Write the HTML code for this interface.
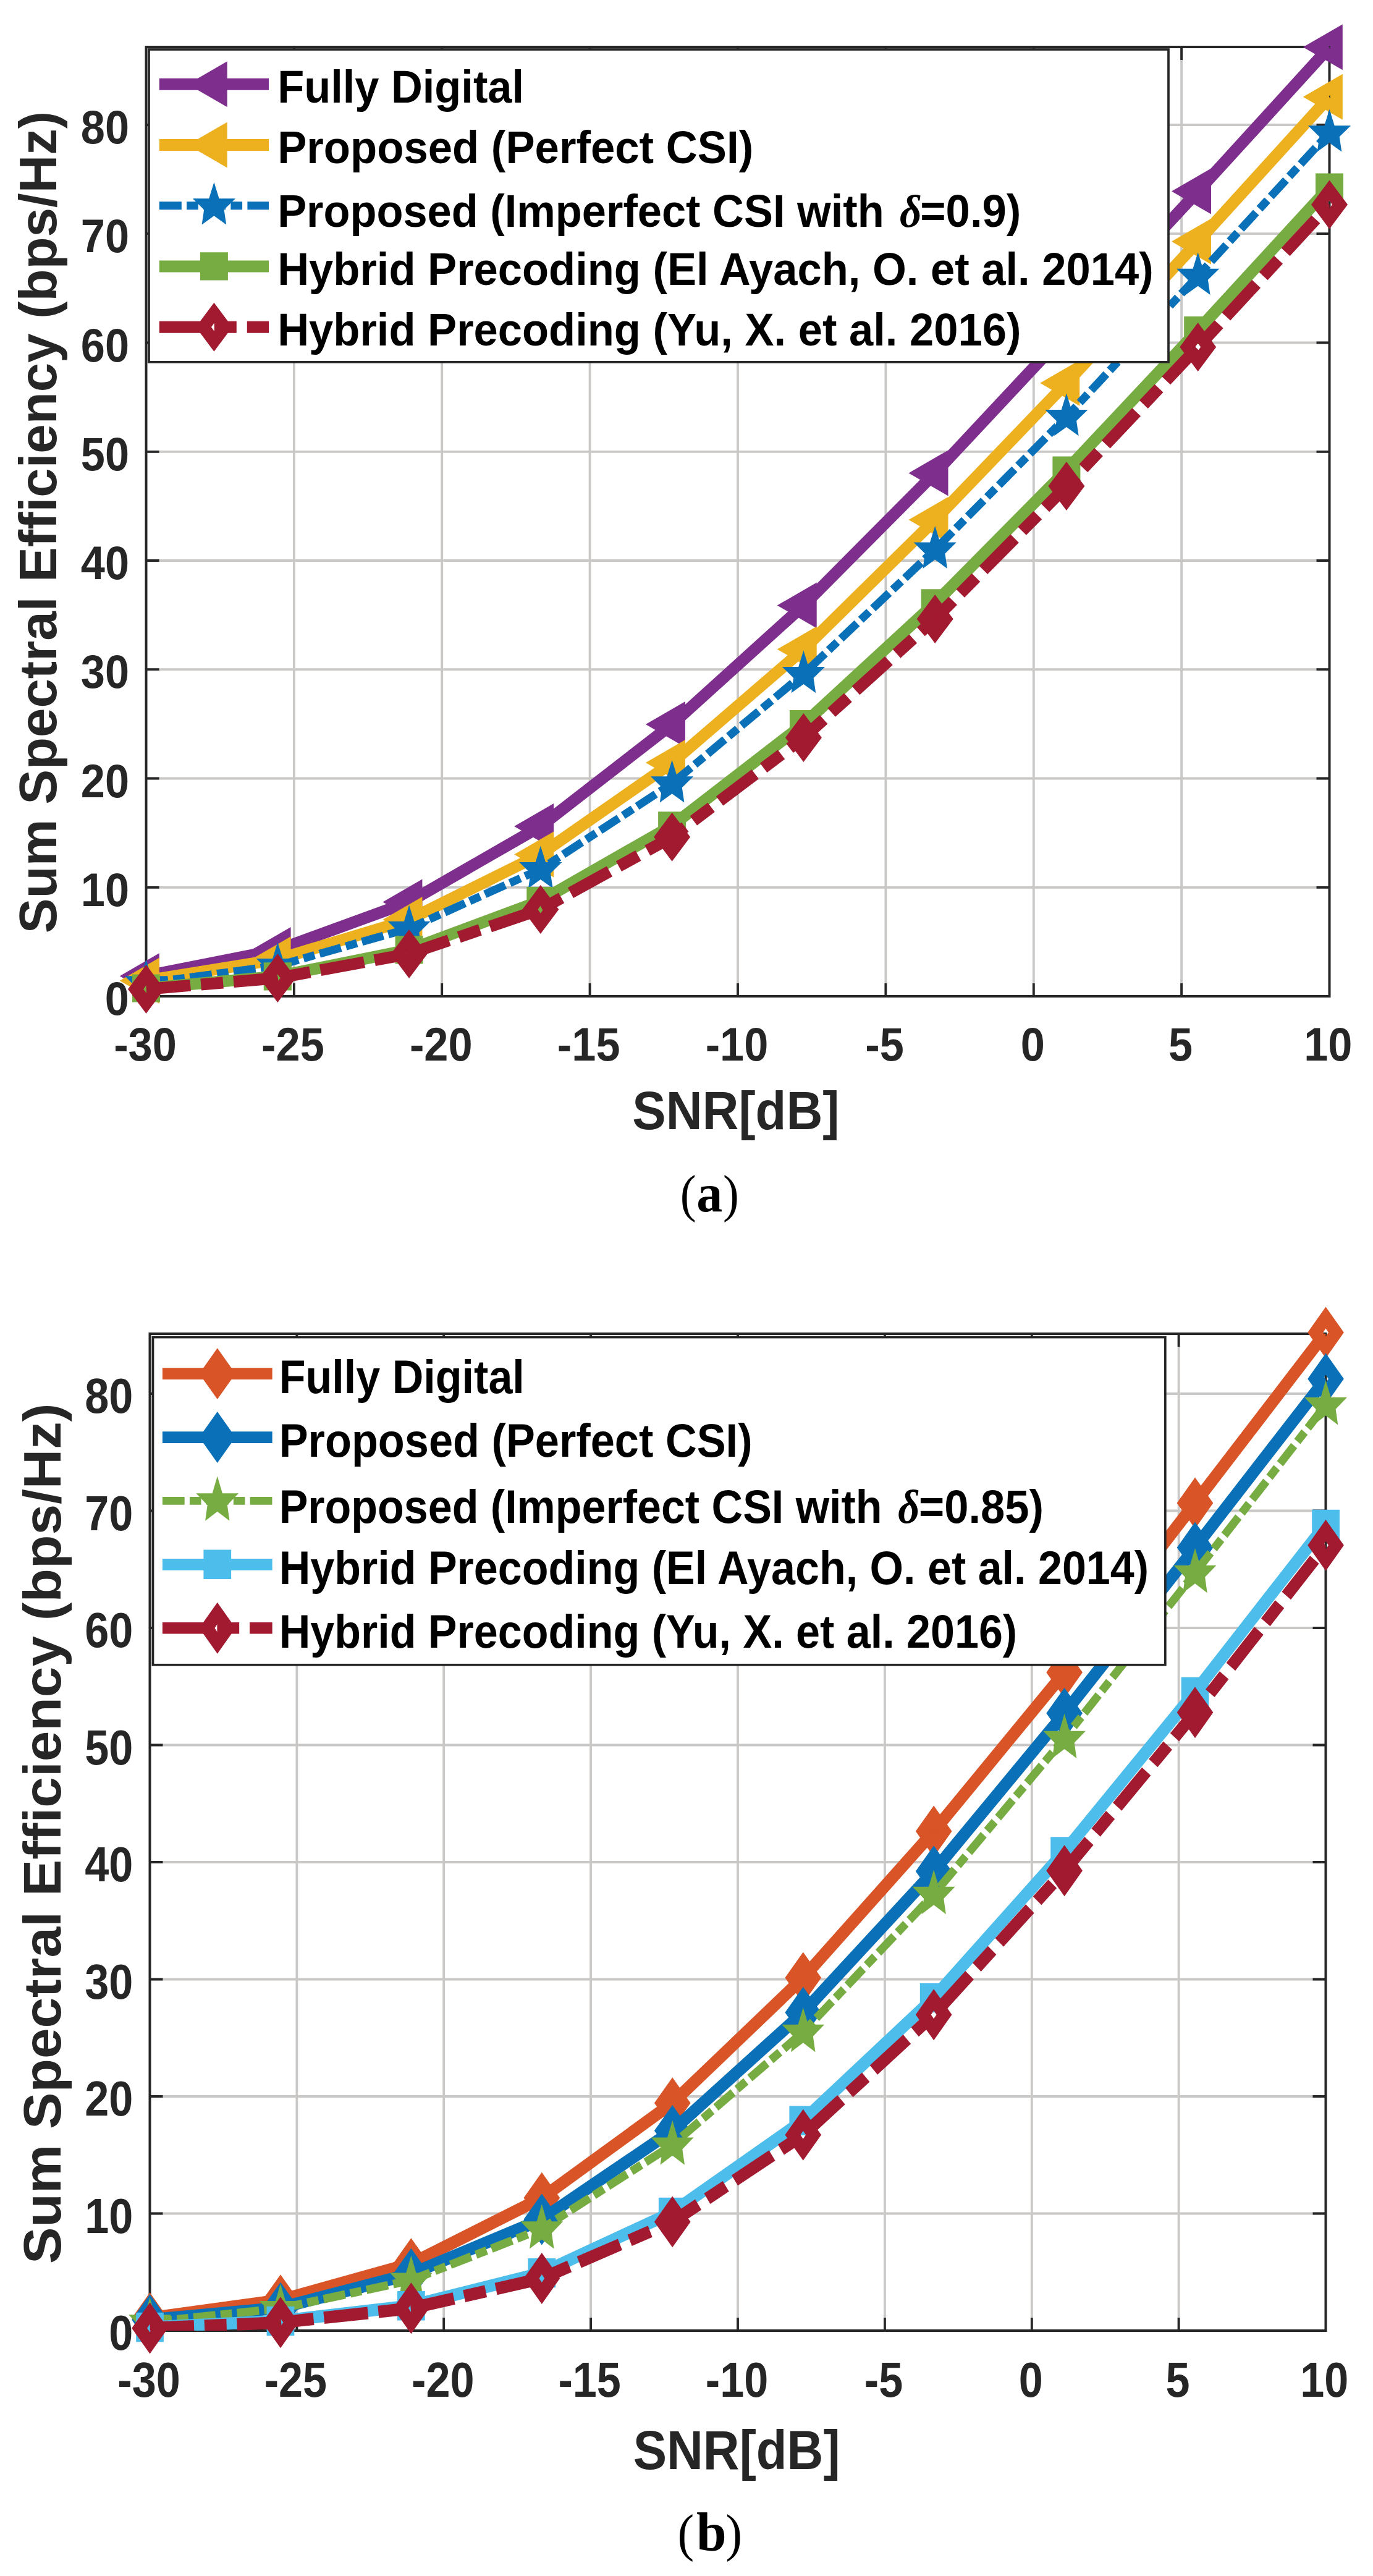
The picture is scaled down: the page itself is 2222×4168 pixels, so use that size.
<!DOCTYPE html>
<html lang="en"><head><meta charset="utf-8"><title>Sum Spectral Efficiency vs SNR</title>
<style>html,body{margin:0;padding:0;background:#fff}svg{display:block}text{white-space:pre}.sb{font-family:'Liberation Sans',Arial,Helvetica,sans-serif;font-weight:bold}.sr{font-family:'Liberation Serif','Times New Roman',serif}.srb{font-family:'Liberation Serif','Times New Roman',serif;font-weight:bold}.si{font-family:'Liberation Serif','Times New Roman',serif;font-style:italic}.sbi{font-family:'Liberation Serif','Times New Roman',serif;font-style:italic;font-weight:bold}</style></head>
<body>
<svg width="2222" height="4168" viewBox="0 0 2222 4168">
<rect width="2222" height="4168" fill="#fff"/>
<g id="chart-a">
<path d="M475.9 76V1612M715.2 76V1612M954.6 76V1612M1194.0 76V1612M1433.4 76V1612M1672.8 76V1612M1912.1 76V1612M236.5 1435.8H2151.5M236.5 1259.5H2151.5M236.5 1083.2H2151.5M236.5 907.0H2151.5M236.5 730.8H2151.5M236.5 554.5H2151.5M236.5 378.2H2151.5M236.5 202.0H2151.5" stroke="#cac8c6" stroke-width="3.8" fill="none"/>
<rect x="236.5" y="76" width="1915.0" height="1536" fill="none" stroke="#262626" stroke-width="4"/>
<path d="M475.9 1612v-21M475.9 76v21M715.2 1612v-21M715.2 76v21M954.6 1612v-21M954.6 76v21M1194.0 1612v-21M1194.0 76v21M1433.4 1612v-21M1433.4 76v21M1672.8 1612v-21M1672.8 76v21M1912.1 1612v-21M1912.1 76v21M236.5 1435.8h21M2151.5 1435.8h-21M236.5 1259.5h21M2151.5 1259.5h-21M236.5 1083.2h21M2151.5 1083.2h-21M236.5 907.0h21M2151.5 907.0h-21M236.5 730.8h21M2151.5 730.8h-21M236.5 554.5h21M2151.5 554.5h-21M236.5 378.2h21M2151.5 378.2h-21M236.5 202.0h21M2151.5 202.0h-21" stroke="#262626" stroke-width="3.8" fill="none"/>
<g transform="scale(1,1)">
<clipPath id="clipa"><rect x="236.50" y="76.00" width="1915.00" height="1536.00"/></clipPath>
<path d="M236.5 1579.2 L449.3 1537.0 L662.1 1459.4 L874.8 1337.0 L1087.6 1172.0 L1300.4 979.5 L1513.2 765.4 L1725.9 538.0 L1938.7 309.6 L2151.5 76.3" stroke="#7e2f8e" stroke-width="19" fill="none" stroke-linejoin="miter" clip-path="url(#clipa)"/>
<path d="M193.8 1579.2 L257.8 1542.2 L257.8 1616.2 Z M234.0 1579.2 L237.7 1576.6 L237.7 1581.8 Z" fill="#7e2f8e" fill-rule="evenodd"/><path d="M406.6 1537.0 L470.6 1500.0 L470.6 1574.0 Z M446.8 1537.0 L450.5 1534.4 L450.5 1539.6 Z" fill="#7e2f8e" fill-rule="evenodd"/><path d="M619.4 1459.4 L683.4 1422.4 L683.4 1496.4 Z M659.6 1459.4 L663.3 1456.8 L663.3 1462.0 Z" fill="#7e2f8e" fill-rule="evenodd"/><path d="M832.1 1337.0 L896.1 1300.0 L896.1 1374.0 Z M872.3 1337.0 L876.0 1334.4 L876.0 1339.6 Z" fill="#7e2f8e" fill-rule="evenodd"/><path d="M1044.9 1172.0 L1108.9 1135.0 L1108.9 1209.0 Z M1085.1 1172.0 L1088.8 1169.4 L1088.8 1174.6 Z" fill="#7e2f8e" fill-rule="evenodd"/><path d="M1257.7 979.5 L1321.7 942.5 L1321.7 1016.5 Z M1297.9 979.5 L1301.6 976.9 L1301.6 982.1 Z" fill="#7e2f8e" fill-rule="evenodd"/><path d="M1470.5 765.4 L1534.5 728.4 L1534.5 802.4 Z M1510.7 765.4 L1514.4 762.8 L1514.4 768.0 Z" fill="#7e2f8e" fill-rule="evenodd"/><path d="M1683.2 538.0 L1747.2 501.0 L1747.2 575.0 Z M1723.4 538.0 L1727.1 535.4 L1727.1 540.6 Z" fill="#7e2f8e" fill-rule="evenodd"/><path d="M1896.0 309.6 L1960.0 272.6 L1960.0 346.6 Z M1936.2 309.6 L1939.9 307.0 L1939.9 312.2 Z" fill="#7e2f8e" fill-rule="evenodd"/><path d="M2108.8 76.3 L2172.8 39.3 L2172.8 113.3 Z M2149.0 76.3 L2152.7 73.7 L2152.7 78.9 Z" fill="#7e2f8e" fill-rule="evenodd"/>
<path d="M236.5 1586.8 L449.3 1552.3 L662.1 1488.0 L874.8 1382.4 L1087.6 1234.0 L1300.4 1050.5 L1513.2 841.0 L1725.9 619.7 L1938.7 390.7 L2151.5 156.7" stroke="#edb120" stroke-width="19" fill="none" stroke-linejoin="miter" clip-path="url(#clipa)"/>
<path d="M193.8 1586.8 L257.8 1549.8 L257.8 1623.8 Z M234.0 1586.8 L237.7 1584.2 L237.7 1589.4 Z" fill="#edb120" fill-rule="evenodd"/><path d="M406.6 1552.3 L470.6 1515.3 L470.6 1589.3 Z M446.8 1552.3 L450.5 1549.7 L450.5 1554.9 Z" fill="#edb120" fill-rule="evenodd"/><path d="M619.4 1488.0 L683.4 1451.0 L683.4 1525.0 Z M659.6 1488.0 L663.3 1485.4 L663.3 1490.6 Z" fill="#edb120" fill-rule="evenodd"/><path d="M832.1 1382.4 L896.1 1345.4 L896.1 1419.4 Z M872.3 1382.4 L876.0 1379.8 L876.0 1385.0 Z" fill="#edb120" fill-rule="evenodd"/><path d="M1044.9 1234.0 L1108.9 1197.0 L1108.9 1271.0 Z M1085.1 1234.0 L1088.8 1231.4 L1088.8 1236.6 Z" fill="#edb120" fill-rule="evenodd"/><path d="M1257.7 1050.5 L1321.7 1013.5 L1321.7 1087.5 Z M1297.9 1050.5 L1301.6 1047.9 L1301.6 1053.1 Z" fill="#edb120" fill-rule="evenodd"/><path d="M1470.5 841.0 L1534.5 804.0 L1534.5 878.0 Z M1510.7 841.0 L1514.4 838.4 L1514.4 843.6 Z" fill="#edb120" fill-rule="evenodd"/><path d="M1683.2 619.7 L1747.2 582.7 L1747.2 656.7 Z M1723.4 619.7 L1727.1 617.1 L1727.1 622.3 Z" fill="#edb120" fill-rule="evenodd"/><path d="M1896.0 390.7 L1960.0 353.7 L1960.0 427.7 Z M1936.2 390.7 L1939.9 388.1 L1939.9 393.3 Z" fill="#edb120" fill-rule="evenodd"/><path d="M2108.8 156.7 L2172.8 119.7 L2172.8 193.7 Z M2149.0 156.7 L2152.7 154.1 L2152.7 159.3 Z" fill="#edb120" fill-rule="evenodd"/>
<path d="M236.5 1590.8 L449.3 1562.5 L662.1 1502.2 L874.8 1406.4 L1087.6 1267.7 L1300.4 1090.4 L1513.2 889.1 L1725.9 674.5 L1938.7 446.2 L2151.5 214.7" stroke="#0a70b8" stroke-width="13" fill="none" stroke-linejoin="miter" stroke-dasharray="36 8.3 18.7 8.3" clip-path="url(#clipa)"/>
<path d="M236.5 1552.8 L244.7 1579.3 L271.1 1579.3 L252.7 1597.4 L256.3 1621.6 L236.5 1607.3 L216.7 1621.6 L220.3 1597.4 L201.9 1579.3 L228.3 1579.3 Z" fill="#0a70b8" fill-rule="evenodd"/><path d="M449.3 1524.5 L457.5 1551.0 L483.9 1551.0 L465.5 1569.1 L469.1 1593.3 L449.3 1579.0 L429.5 1593.3 L433.1 1569.1 L414.7 1551.0 L441.1 1551.0 Z" fill="#0a70b8" fill-rule="evenodd"/><path d="M662.1 1464.2 L670.3 1490.7 L696.7 1490.7 L678.3 1508.8 L681.9 1533.0 L662.1 1518.7 L642.3 1533.0 L645.9 1508.8 L627.5 1490.7 L653.9 1490.7 Z" fill="#0a70b8" fill-rule="evenodd"/><path d="M874.8 1368.4 L883.0 1394.9 L909.4 1394.9 L891.0 1413.0 L894.6 1437.2 L874.8 1422.9 L855.0 1437.2 L858.6 1413.0 L840.2 1394.9 L866.6 1394.9 Z" fill="#0a70b8" fill-rule="evenodd"/><path d="M1087.6 1229.7 L1095.8 1256.2 L1122.2 1256.2 L1103.8 1274.3 L1107.4 1298.5 L1087.6 1284.2 L1067.8 1298.5 L1071.4 1274.3 L1053.0 1256.2 L1079.4 1256.2 Z" fill="#0a70b8" fill-rule="evenodd"/><path d="M1300.4 1052.4 L1308.6 1078.9 L1335.0 1078.9 L1316.6 1097.0 L1320.2 1121.2 L1300.4 1106.9 L1280.6 1121.2 L1284.2 1097.0 L1265.8 1078.9 L1292.2 1078.9 Z" fill="#0a70b8" fill-rule="evenodd"/><path d="M1513.2 851.1 L1521.4 877.6 L1547.8 877.6 L1529.4 895.7 L1533.0 919.9 L1513.2 905.6 L1493.4 919.9 L1497.0 895.7 L1478.6 877.6 L1505.0 877.6 Z" fill="#0a70b8" fill-rule="evenodd"/><path d="M1725.9 636.5 L1734.1 663.0 L1760.5 663.0 L1742.1 681.1 L1745.7 705.3 L1725.9 691.0 L1706.1 705.3 L1709.7 681.1 L1691.3 663.0 L1717.7 663.0 Z" fill="#0a70b8" fill-rule="evenodd"/><path d="M1938.7 408.2 L1946.9 434.7 L1973.3 434.7 L1954.9 452.8 L1958.5 477.0 L1938.7 462.7 L1918.9 477.0 L1922.5 452.8 L1904.1 434.7 L1930.5 434.7 Z" fill="#0a70b8" fill-rule="evenodd"/><path d="M2151.5 176.7 L2159.7 203.2 L2186.1 203.2 L2167.7 221.3 L2171.3 245.5 L2151.5 231.2 L2131.7 245.5 L2135.3 221.3 L2116.9 203.2 L2143.3 203.2 Z" fill="#0a70b8" fill-rule="evenodd"/>
<path d="M236.5 1599.0 L449.3 1579.8 L662.1 1536.8 L874.8 1457.7 L1087.6 1335.9 L1300.4 1171.7 L1513.2 975.8 L1725.9 761.0 L1938.7 534.5 L2151.5 303.0" stroke="#77ac42" stroke-width="19" fill="none" stroke-linejoin="miter" clip-path="url(#clipa)"/>
<path d="M214.0 1576.4 L259.0 1576.4 L259.0 1621.6 L214.0 1621.6 Z" fill="#77ac42" fill-rule="evenodd"/><path d="M426.8 1557.2 L471.8 1557.2 L471.8 1602.4 L426.8 1602.4 Z" fill="#77ac42" fill-rule="evenodd"/><path d="M639.6 1514.2 L684.6 1514.2 L684.6 1559.4 L639.6 1559.4 Z" fill="#77ac42" fill-rule="evenodd"/><path d="M852.3 1435.1 L897.3 1435.1 L897.3 1480.3 L852.3 1480.3 Z" fill="#77ac42" fill-rule="evenodd"/><path d="M1065.1 1313.3 L1110.1 1313.3 L1110.1 1358.5 L1065.1 1358.5 Z" fill="#77ac42" fill-rule="evenodd"/><path d="M1277.9 1149.1 L1322.9 1149.1 L1322.9 1194.3 L1277.9 1194.3 Z" fill="#77ac42" fill-rule="evenodd"/><path d="M1490.7 953.2 L1535.7 953.2 L1535.7 998.4 L1490.7 998.4 Z" fill="#77ac42" fill-rule="evenodd"/><path d="M1703.4 738.4 L1748.4 738.4 L1748.4 783.6 L1703.4 783.6 Z" fill="#77ac42" fill-rule="evenodd"/><path d="M1916.2 511.9 L1961.2 511.9 L1961.2 557.1 L1916.2 557.1 Z" fill="#77ac42" fill-rule="evenodd"/><path d="M2129.0 280.4 L2174.0 280.4 L2174.0 325.6 L2129.0 325.6 Z" fill="#77ac42" fill-rule="evenodd"/>
<path d="M236.5 1600.4 L449.3 1582.5 L662.1 1543.4 L874.8 1471.5 L1087.6 1354.2 L1300.4 1193.6 L1513.2 1001.5 L1725.9 786.6 L1938.7 561.4 L2151.5 331.0" stroke="#a21a30" stroke-width="19" fill="none" stroke-linejoin="miter" stroke-dasharray="72 17 36 17" clip-path="url(#clipa)"/>
<path d="M236.5 1560.9 L266.0 1600.4 L236.5 1639.9 L207.0 1600.4 Z M236.5 1594.2 L240.9 1600.4 L236.5 1606.6 L232.1 1600.4 Z" fill="#a21a30" fill-rule="evenodd"/><path d="M449.3 1543.0 L478.8 1582.5 L449.3 1622.0 L419.8 1582.5 Z M449.3 1576.3 L453.7 1582.5 L449.3 1588.7 L444.9 1582.5 Z" fill="#a21a30" fill-rule="evenodd"/><path d="M662.1 1503.9 L691.6 1543.4 L662.1 1582.9 L632.6 1543.4 Z M662.1 1537.2 L666.5 1543.4 L662.1 1549.6 L657.7 1543.4 Z" fill="#a21a30" fill-rule="evenodd"/><path d="M874.8 1432.0 L904.3 1471.5 L874.8 1511.0 L845.3 1471.5 Z M874.8 1465.3 L879.2 1471.5 L874.8 1477.7 L870.4 1471.5 Z" fill="#a21a30" fill-rule="evenodd"/><path d="M1087.6 1314.7 L1117.1 1354.2 L1087.6 1393.7 L1058.1 1354.2 Z M1087.6 1348.0 L1092.0 1354.2 L1087.6 1360.4 L1083.2 1354.2 Z" fill="#a21a30" fill-rule="evenodd"/><path d="M1300.4 1154.1 L1329.9 1193.6 L1300.4 1233.1 L1270.9 1193.6 Z M1300.4 1187.4 L1304.8 1193.6 L1300.4 1199.8 L1296.0 1193.6 Z" fill="#a21a30" fill-rule="evenodd"/><path d="M1513.2 962.0 L1542.7 1001.5 L1513.2 1041.0 L1483.7 1001.5 Z M1513.2 995.3 L1517.6 1001.5 L1513.2 1007.7 L1508.8 1001.5 Z" fill="#a21a30" fill-rule="evenodd"/><path d="M1725.9 747.1 L1755.4 786.6 L1725.9 826.1 L1696.4 786.6 Z M1725.9 780.4 L1730.3 786.6 L1725.9 792.8 L1721.5 786.6 Z" fill="#a21a30" fill-rule="evenodd"/><path d="M1938.7 521.9 L1968.2 561.4 L1938.7 600.9 L1909.2 561.4 Z M1938.7 555.2 L1943.1 561.4 L1938.7 567.6 L1934.3 561.4 Z" fill="#a21a30" fill-rule="evenodd"/><path d="M2151.5 291.5 L2181.0 331.0 L2151.5 370.5 L2122.0 331.0 Z M2151.5 324.8 L2155.9 331.0 L2151.5 337.2 L2147.1 331.0 Z" fill="#a21a30" fill-rule="evenodd"/>
</g>
<rect x="241" y="80" width="1650" height="505.79999999999995" fill="#fff" stroke="#262626" stroke-width="3.7"/>
<g transform="scale(1,1)">
<path d="M257.8 136.2H435.0" stroke="#7e2f8e" stroke-width="19.00" fill="none"/>
<path d="M303.7 136.2 L367.7 99.2 L367.7 173.2 Z M343.9 136.2 L347.6 133.6 L347.6 138.8 Z" fill="#7e2f8e" fill-rule="evenodd"/>
<path d="M257.8 234.4H435.0" stroke="#edb120" stroke-width="19.00" fill="none"/>
<path d="M303.7 234.4 L367.7 197.4 L367.7 271.4 Z M343.9 234.4 L347.6 231.8 L347.6 237.0 Z" fill="#edb120" fill-rule="evenodd"/>
<path d="M257.8 332.7H435.0" stroke="#0a70b8" stroke-width="13.00" stroke-dasharray="36 8.3 18.7 8.3" fill="none"/>
<path d="M346.4 294.7 L354.6 321.2 L381.0 321.2 L362.6 339.3 L366.2 363.5 L346.4 349.2 L326.6 363.5 L330.2 339.3 L311.8 321.2 L338.2 321.2 Z" fill="#0a70b8" fill-rule="evenodd"/>
<path d="M257.8 430.9H435.0" stroke="#77ac42" stroke-width="19.00" fill="none"/>
<path d="M323.9 408.3 L368.9 408.3 L368.9 453.6 L323.9 453.6 Z" fill="#77ac42" fill-rule="evenodd"/>
<path d="M257.8 529.2H435.0" stroke="#a21a30" stroke-width="19.00" stroke-dasharray="72 17 36 17" fill="none"/>
<path d="M346.4 489.7 L375.9 529.2 L346.4 568.7 L316.9 529.2 Z M346.4 523.0 L350.8 529.2 L346.4 535.4 L342.0 529.2 Z" fill="#a21a30" fill-rule="evenodd"/>
</g>
</g>
<text transform="translate(169.86,1642.00) scale(0.9250,1.0000)" font-size="76.07" fill="#262626" class="sb">0</text>
<text transform="translate(130.81,1465.75) scale(0.9250,1.0000)" font-size="76.07" fill="#262626" class="sb">10</text>
<text transform="translate(130.81,1289.50) scale(0.9250,1.0000)" font-size="76.07" fill="#262626" class="sb">20</text>
<text transform="translate(130.81,1113.25) scale(0.9250,1.0000)" font-size="76.07" fill="#262626" class="sb">30</text>
<text transform="translate(130.81,937.00) scale(0.9250,1.0000)" font-size="76.07" fill="#262626" class="sb">40</text>
<text transform="translate(130.81,760.75) scale(0.9250,1.0000)" font-size="76.07" fill="#262626" class="sb">50</text>
<text transform="translate(130.81,584.50) scale(0.9250,1.0000)" font-size="76.07" fill="#262626" class="sb">60</text>
<text transform="translate(130.81,408.25) scale(0.9250,1.0000)" font-size="76.07" fill="#262626" class="sb">70</text>
<text transform="translate(130.81,232.00) scale(0.9250,1.0000)" font-size="76.07" fill="#262626" class="sb">80</text>
<text transform="translate(184.16,1716.00) scale(0.9250,1.0000)" font-size="76.07" fill="#262626" class="sb">-30</text>
<text transform="translate(423.09,1716.00) scale(0.9250,1.0000)" font-size="76.07" fill="#262626" class="sb">-25</text>
<text transform="translate(662.91,1716.00) scale(0.9250,1.0000)" font-size="76.07" fill="#262626" class="sb">-20</text>
<text transform="translate(901.84,1716.00) scale(0.9250,1.0000)" font-size="76.07" fill="#262626" class="sb">-15</text>
<text transform="translate(1141.66,1716.00) scale(0.9250,1.0000)" font-size="76.07" fill="#262626" class="sb">-10</text>
<text transform="translate(1400.21,1716.00) scale(0.9250,1.0000)" font-size="76.07" fill="#262626" class="sb">-5</text>
<text transform="translate(1651.72,1716.00) scale(0.9250,1.0000)" font-size="76.07" fill="#262626" class="sb">0</text>
<text transform="translate(1891.01,1716.00) scale(0.9250,1.0000)" font-size="76.07" fill="#262626" class="sb">5</text>
<text transform="translate(2110.15,1716.00) scale(0.9250,1.0000)" font-size="76.07" fill="#262626" class="sb">10</text>
<text transform="translate(1023.25,1827.00) scale(0.9440,1.0000)" font-size="86.40" fill="#262626" class="sb">SNR[dB]</text>
<text transform="translate(90.90,1510.16) rotate(-90) scale(0.9980,1.0000)" font-size="85.38" fill="#262626" class="sb">Sum Spectral Efficiency (bps/Hz)</text>
<text transform="translate(449.15,166.20) scale(0.9455,1.0000)" font-size="74.47" fill="#000" class="sb">Fully Digital</text>
<text transform="translate(449.13,264.45) scale(0.9496,1.0000)" font-size="74.47" fill="#000" class="sb">Proposed (Perfect CSI)</text>
<text transform="translate(449.14,460.95) scale(0.9473,1.0000)" font-size="74.47" fill="#000" class="sb">Hybrid Precoding (El Ayach, O. et al. 2014)</text>
<text transform="translate(449.14,559.20) scale(0.9473,1.0000)" font-size="74.47" fill="#000" class="sb">Hybrid Precoding (Yu, X. et al. 2016)</text>
<text transform="translate(0,366.70) scale(1,1.0000)" fill="#000"><tspan class="sb" font-size="74.47" x="449.15" textLength="1001.15" lengthAdjust="spacingAndGlyphs">Proposed (Imperfect CSI with </tspan><tspan class="sbi" font-size="74.00" x="1455.96" textLength="35.61" lengthAdjust="spacingAndGlyphs">δ</tspan><tspan class="sb" font-size="74.47" x="1489.30" textLength="163.12" lengthAdjust="spacingAndGlyphs">=0.9)</tspan></text>
<text transform="translate(0,1960.00) scale(1,1.0000)" fill="#000"><tspan class="sr" font-size="85.00" x="1100.70" textLength="25.86" lengthAdjust="spacingAndGlyphs">(</tspan><tspan class="srb" font-size="88.00" x="1127.27" textLength="41.99" lengthAdjust="spacingAndGlyphs">a</tspan><tspan class="sr" font-size="85.00" x="1169.98" textLength="25.86" lengthAdjust="spacingAndGlyphs">)</tspan></text>
<g id="chart-b">
<path d="M480.4 2158V3771M718.2 2158V3771M956.1 2158V3771M1194.0 2158V3771M1431.9 2158V3771M1669.8 2158V3771M1907.6 2158V3771M242.5 3581.5H2145.5M242.5 3392.0H2145.5M242.5 3202.5H2145.5M242.5 3013.0H2145.5M242.5 2823.5H2145.5M242.5 2634.0H2145.5M242.5 2444.5H2145.5M242.5 2255.0H2145.5" stroke="#cac8c6" stroke-width="3.8" fill="none"/>
<rect x="242.5" y="2158" width="1903.0" height="1613" fill="none" stroke="#262626" stroke-width="4"/>
<path d="M480.4 3771v-21M480.4 2158v21M718.2 3771v-21M718.2 2158v21M956.1 3771v-21M956.1 2158v21M1194.0 3771v-21M1194.0 2158v21M1431.9 3771v-21M1431.9 2158v21M1669.8 3771v-21M1669.8 2158v21M1907.6 3771v-21M1907.6 2158v21M242.5 3581.5h21M2145.5 3581.5h-21M242.5 3392.0h21M2145.5 3392.0h-21M242.5 3202.5h21M2145.5 3202.5h-21M242.5 3013.0h21M2145.5 3013.0h-21M242.5 2823.5h21M2145.5 2823.5h-21M242.5 2634.0h21M2145.5 2634.0h-21M242.5 2444.5h21M2145.5 2444.5h-21M242.5 2255.0h21M2145.5 2255.0h-21" stroke="#262626" stroke-width="3.8" fill="none"/>
<g transform="scale(0.994,1.05)">
<clipPath id="clipb"><rect x="243.96" y="2055.24" width="1914.49" height="1536.19"/></clipPath>
<path d="M244.0 3572.1 L456.7 3544.4 L669.4 3488.3 L882.1 3387.0 L1094.8 3240.7 L1307.6 3047.7 L1520.3 2822.0 L1733.0 2577.1 L1945.7 2316.1 L2158.5 2053.3" stroke="#d95427" stroke-width="19" fill="none" stroke-linejoin="miter" clip-path="url(#clipb)"/>
<path d="M244.0 3532.6 L273.5 3572.1 L244.0 3611.6 L214.5 3572.1 Z M244.0 3565.9 L248.4 3572.1 L244.0 3578.3 L239.6 3572.1 Z" fill="#d95427" fill-rule="evenodd"/><path d="M456.7 3504.9 L486.2 3544.4 L456.7 3583.9 L427.2 3544.4 Z M456.7 3538.2 L461.1 3544.4 L456.7 3550.6 L452.3 3544.4 Z" fill="#d95427" fill-rule="evenodd"/><path d="M669.4 3448.8 L698.9 3488.3 L669.4 3527.8 L639.9 3488.3 Z M669.4 3482.1 L673.8 3488.3 L669.4 3494.5 L665.0 3488.3 Z" fill="#d95427" fill-rule="evenodd"/><path d="M882.1 3347.5 L911.6 3387.0 L882.1 3426.5 L852.6 3387.0 Z M882.1 3380.8 L886.5 3387.0 L882.1 3393.2 L877.7 3387.0 Z" fill="#d95427" fill-rule="evenodd"/><path d="M1094.8 3201.2 L1124.3 3240.7 L1094.8 3280.2 L1065.3 3240.7 Z M1094.8 3234.5 L1099.2 3240.7 L1094.8 3246.9 L1090.4 3240.7 Z" fill="#d95427" fill-rule="evenodd"/><path d="M1307.6 3008.2 L1337.1 3047.7 L1307.6 3087.2 L1278.1 3047.7 Z M1307.6 3041.5 L1312.0 3047.7 L1307.6 3053.9 L1303.2 3047.7 Z" fill="#d95427" fill-rule="evenodd"/><path d="M1520.3 2782.5 L1549.8 2822.0 L1520.3 2861.5 L1490.8 2822.0 Z M1520.3 2815.8 L1524.7 2822.0 L1520.3 2828.2 L1515.9 2822.0 Z" fill="#d95427" fill-rule="evenodd"/><path d="M1733.0 2537.6 L1762.5 2577.1 L1733.0 2616.6 L1703.5 2577.1 Z M1733.0 2570.9 L1737.4 2577.1 L1733.0 2583.3 L1728.6 2577.1 Z" fill="#d95427" fill-rule="evenodd"/><path d="M1945.7 2276.6 L1975.2 2316.1 L1945.7 2355.6 L1916.2 2316.1 Z M1945.7 2309.9 L1950.1 2316.1 L1945.7 2322.3 L1941.3 2316.1 Z" fill="#d95427" fill-rule="evenodd"/><path d="M2158.5 2013.8 L2188.0 2053.3 L2158.5 2092.8 L2129.0 2053.3 Z M2158.5 2047.1 L2162.9 2053.3 L2158.5 2059.5 L2154.1 2053.3 Z" fill="#d95427" fill-rule="evenodd"/>
<path d="M244.0 3574.8 L456.7 3556.3 L669.4 3504.1 L882.1 3420.0 L1094.8 3283.3 L1307.6 3101.1 L1520.3 2883.6 L1733.0 2640.1 L1945.7 2384.8 L2158.5 2124.8" stroke="#0a70b8" stroke-width="19" fill="none" stroke-linejoin="miter" clip-path="url(#clipb)"/>
<path d="M244.0 3535.3 L273.5 3574.8 L244.0 3614.3 L214.5 3574.8 Z M244.0 3568.6 L248.4 3574.8 L244.0 3581.0 L239.6 3574.8 Z" fill="#0a70b8" fill-rule="evenodd"/><path d="M456.7 3516.8 L486.2 3556.3 L456.7 3595.8 L427.2 3556.3 Z M456.7 3550.1 L461.1 3556.3 L456.7 3562.5 L452.3 3556.3 Z" fill="#0a70b8" fill-rule="evenodd"/><path d="M669.4 3464.6 L698.9 3504.1 L669.4 3543.6 L639.9 3504.1 Z M669.4 3497.9 L673.8 3504.1 L669.4 3510.3 L665.0 3504.1 Z" fill="#0a70b8" fill-rule="evenodd"/><path d="M882.1 3380.5 L911.6 3420.0 L882.1 3459.5 L852.6 3420.0 Z M882.1 3413.8 L886.5 3420.0 L882.1 3426.2 L877.7 3420.0 Z" fill="#0a70b8" fill-rule="evenodd"/><path d="M1094.8 3243.8 L1124.3 3283.3 L1094.8 3322.8 L1065.3 3283.3 Z M1094.8 3277.1 L1099.2 3283.3 L1094.8 3289.5 L1090.4 3283.3 Z" fill="#0a70b8" fill-rule="evenodd"/><path d="M1307.6 3061.6 L1337.1 3101.1 L1307.6 3140.6 L1278.1 3101.1 Z M1307.6 3094.9 L1312.0 3101.1 L1307.6 3107.3 L1303.2 3101.1 Z" fill="#0a70b8" fill-rule="evenodd"/><path d="M1520.3 2844.1 L1549.8 2883.6 L1520.3 2923.1 L1490.8 2883.6 Z M1520.3 2877.4 L1524.7 2883.6 L1520.3 2889.8 L1515.9 2883.6 Z" fill="#0a70b8" fill-rule="evenodd"/><path d="M1733.0 2600.6 L1762.5 2640.1 L1733.0 2679.6 L1703.5 2640.1 Z M1733.0 2633.9 L1737.4 2640.1 L1733.0 2646.3 L1728.6 2640.1 Z" fill="#0a70b8" fill-rule="evenodd"/><path d="M1945.7 2345.3 L1975.2 2384.8 L1945.7 2424.3 L1916.2 2384.8 Z M1945.7 2378.6 L1950.1 2384.8 L1945.7 2391.0 L1941.3 2384.8 Z" fill="#0a70b8" fill-rule="evenodd"/><path d="M2158.5 2085.3 L2188.0 2124.8 L2158.5 2164.3 L2129.0 2124.8 Z M2158.5 2118.6 L2162.9 2124.8 L2158.5 2131.0 L2154.1 2124.8 Z" fill="#0a70b8" fill-rule="evenodd"/>
<path d="M244.0 3578.3 L456.7 3557.2 L669.4 3513.8 L882.1 3434.5 L1094.8 3305.2 L1307.6 3131.3 L1520.3 2919.0 L1733.0 2678.8 L1945.7 2423.7 L2158.5 2164.9" stroke="#77ac42" stroke-width="13" fill="none" stroke-linejoin="miter" stroke-dasharray="36 8.3 18.7 8.3" clip-path="url(#clipb)"/>
<path d="M244.0 3540.3 L252.2 3566.8 L278.6 3566.8 L260.2 3584.9 L263.8 3609.1 L244.0 3594.8 L224.2 3609.1 L227.8 3584.9 L209.4 3566.8 L235.8 3566.8 Z" fill="#77ac42" fill-rule="evenodd"/><path d="M456.7 3519.2 L464.9 3545.7 L491.3 3545.7 L472.9 3563.8 L476.5 3588.0 L456.7 3573.7 L436.9 3588.0 L440.5 3563.8 L422.1 3545.7 L448.5 3545.7 Z" fill="#77ac42" fill-rule="evenodd"/><path d="M669.4 3475.8 L677.6 3502.3 L704.0 3502.3 L685.6 3520.4 L689.2 3544.6 L669.4 3530.3 L649.6 3544.6 L653.2 3520.4 L634.8 3502.3 L661.2 3502.3 Z" fill="#77ac42" fill-rule="evenodd"/><path d="M882.1 3396.5 L890.3 3423.0 L916.7 3423.0 L898.3 3441.1 L901.9 3465.3 L882.1 3451.0 L862.3 3465.3 L865.9 3441.1 L847.5 3423.0 L873.9 3423.0 Z" fill="#77ac42" fill-rule="evenodd"/><path d="M1094.8 3267.2 L1103.0 3293.7 L1129.4 3293.7 L1111.0 3311.8 L1114.6 3336.0 L1094.8 3321.7 L1075.0 3336.0 L1078.6 3311.8 L1060.2 3293.7 L1086.6 3293.7 Z" fill="#77ac42" fill-rule="evenodd"/><path d="M1307.6 3093.3 L1315.8 3119.8 L1342.2 3119.8 L1323.8 3137.9 L1327.4 3162.1 L1307.6 3147.8 L1287.8 3162.1 L1291.4 3137.9 L1273.0 3119.8 L1299.4 3119.8 Z" fill="#77ac42" fill-rule="evenodd"/><path d="M1520.3 2881.0 L1528.5 2907.5 L1554.9 2907.5 L1536.5 2925.6 L1540.1 2949.8 L1520.3 2935.5 L1500.5 2949.8 L1504.1 2925.6 L1485.7 2907.5 L1512.1 2907.5 Z" fill="#77ac42" fill-rule="evenodd"/><path d="M1733.0 2640.8 L1741.2 2667.3 L1767.6 2667.3 L1749.2 2685.4 L1752.8 2709.6 L1733.0 2695.3 L1713.2 2709.6 L1716.8 2685.4 L1698.4 2667.3 L1724.8 2667.3 Z" fill="#77ac42" fill-rule="evenodd"/><path d="M1945.7 2385.7 L1953.9 2412.2 L1980.3 2412.2 L1961.9 2430.3 L1965.5 2454.5 L1945.7 2440.2 L1925.9 2454.5 L1929.5 2430.3 L1911.1 2412.2 L1937.5 2412.2 Z" fill="#77ac42" fill-rule="evenodd"/><path d="M2158.5 2126.9 L2166.7 2153.4 L2193.1 2153.4 L2174.7 2171.5 L2178.3 2195.7 L2158.5 2181.4 L2138.7 2195.7 L2142.3 2171.5 L2123.9 2153.4 L2150.3 2153.4 Z" fill="#77ac42" fill-rule="evenodd"/>
<path d="M244.0 3586.1 L456.7 3576.6 L669.4 3553.1 L882.1 3502.5 L1094.8 3409.1 L1307.6 3267.8 L1520.3 3078.7 L1733.0 2853.3 L1945.7 2607.2 L2158.5 2349.0" stroke="#4dbdeb" stroke-width="19" fill="none" stroke-linejoin="miter" clip-path="url(#clipb)"/>
<path d="M221.5 3563.5 L266.5 3563.5 L266.5 3608.7 L221.5 3608.7 Z" fill="#4dbdeb" fill-rule="evenodd"/><path d="M434.2 3554.0 L479.2 3554.0 L479.2 3599.2 L434.2 3599.2 Z" fill="#4dbdeb" fill-rule="evenodd"/><path d="M646.9 3530.5 L691.9 3530.5 L691.9 3575.7 L646.9 3575.7 Z" fill="#4dbdeb" fill-rule="evenodd"/><path d="M859.6 3479.9 L904.6 3479.9 L904.6 3525.1 L859.6 3525.1 Z" fill="#4dbdeb" fill-rule="evenodd"/><path d="M1072.3 3386.5 L1117.3 3386.5 L1117.3 3431.7 L1072.3 3431.7 Z" fill="#4dbdeb" fill-rule="evenodd"/><path d="M1285.1 3245.2 L1330.1 3245.2 L1330.1 3290.4 L1285.1 3290.4 Z" fill="#4dbdeb" fill-rule="evenodd"/><path d="M1497.8 3056.1 L1542.8 3056.1 L1542.8 3101.3 L1497.8 3101.3 Z" fill="#4dbdeb" fill-rule="evenodd"/><path d="M1710.5 2830.7 L1755.5 2830.7 L1755.5 2875.9 L1710.5 2875.9 Z" fill="#4dbdeb" fill-rule="evenodd"/><path d="M1923.2 2584.6 L1968.2 2584.6 L1968.2 2629.8 L1923.2 2629.8 Z" fill="#4dbdeb" fill-rule="evenodd"/><path d="M2136.0 2326.4 L2181.0 2326.4 L2181.0 2371.6 L2136.0 2371.6 Z" fill="#4dbdeb" fill-rule="evenodd"/>
<path d="M244.0 3587.6 L456.7 3578.9 L669.4 3557.0 L882.1 3510.9 L1094.8 3423.7 L1307.6 3289.8 L1520.3 3104.5 L1733.0 2882.7 L1945.7 2638.9 L2158.5 2381.2" stroke="#a21a30" stroke-width="19" fill="none" stroke-linejoin="miter" stroke-dasharray="72 17 36 17" clip-path="url(#clipb)"/>
<path d="M244.0 3548.1 L273.5 3587.6 L244.0 3627.1 L214.5 3587.6 Z M244.0 3581.4 L248.4 3587.6 L244.0 3593.8 L239.6 3587.6 Z" fill="#a21a30" fill-rule="evenodd"/><path d="M456.7 3539.4 L486.2 3578.9 L456.7 3618.4 L427.2 3578.9 Z M456.7 3572.7 L461.1 3578.9 L456.7 3585.1 L452.3 3578.9 Z" fill="#a21a30" fill-rule="evenodd"/><path d="M669.4 3517.5 L698.9 3557.0 L669.4 3596.5 L639.9 3557.0 Z M669.4 3550.8 L673.8 3557.0 L669.4 3563.2 L665.0 3557.0 Z" fill="#a21a30" fill-rule="evenodd"/><path d="M882.1 3471.4 L911.6 3510.9 L882.1 3550.4 L852.6 3510.9 Z M882.1 3504.7 L886.5 3510.9 L882.1 3517.1 L877.7 3510.9 Z" fill="#a21a30" fill-rule="evenodd"/><path d="M1094.8 3384.2 L1124.3 3423.7 L1094.8 3463.2 L1065.3 3423.7 Z M1094.8 3417.5 L1099.2 3423.7 L1094.8 3429.9 L1090.4 3423.7 Z" fill="#a21a30" fill-rule="evenodd"/><path d="M1307.6 3250.3 L1337.1 3289.8 L1307.6 3329.3 L1278.1 3289.8 Z M1307.6 3283.6 L1312.0 3289.8 L1307.6 3296.0 L1303.2 3289.8 Z" fill="#a21a30" fill-rule="evenodd"/><path d="M1520.3 3065.0 L1549.8 3104.5 L1520.3 3144.0 L1490.8 3104.5 Z M1520.3 3098.3 L1524.7 3104.5 L1520.3 3110.7 L1515.9 3104.5 Z" fill="#a21a30" fill-rule="evenodd"/><path d="M1733.0 2843.2 L1762.5 2882.7 L1733.0 2922.2 L1703.5 2882.7 Z M1733.0 2876.5 L1737.4 2882.7 L1733.0 2888.9 L1728.6 2882.7 Z" fill="#a21a30" fill-rule="evenodd"/><path d="M1945.7 2599.4 L1975.2 2638.9 L1945.7 2678.4 L1916.2 2638.9 Z M1945.7 2632.7 L1950.1 2638.9 L1945.7 2645.1 L1941.3 2638.9 Z" fill="#a21a30" fill-rule="evenodd"/><path d="M2158.5 2341.7 L2188.0 2381.2 L2158.5 2420.7 L2129.0 2381.2 Z M2158.5 2375.0 L2162.9 2381.2 L2158.5 2387.4 L2154.1 2381.2 Z" fill="#a21a30" fill-rule="evenodd"/>
</g>
<rect x="247.5" y="2163.6" width="1638.3" height="530.2000000000003" fill="#fff" stroke="#262626" stroke-width="3.7"/>
<g transform="scale(0.994,1.05)">
<path d="M264.5 2116.8H443.3" stroke="#d95427" stroke-width="17.82" fill="none"/>
<path d="M353.9 2077.3 L383.4 2116.8 L353.9 2156.3 L324.4 2116.8 Z M353.9 2110.6 L358.3 2116.8 L353.9 2123.0 L349.5 2116.8 Z" fill="#d95427" fill-rule="evenodd"/>
<path d="M264.5 2214.8H443.3" stroke="#0a70b8" stroke-width="17.82" fill="none"/>
<path d="M353.9 2175.3 L383.4 2214.8 L353.9 2254.3 L324.4 2214.8 Z M353.9 2208.6 L358.3 2214.8 L353.9 2221.0 L349.5 2214.8 Z" fill="#0a70b8" fill-rule="evenodd"/>
<path d="M264.5 2312.8H443.3" stroke="#77ac42" stroke-width="12.20" stroke-dasharray="36 8.3 18.7 8.3" fill="none"/>
<path d="M353.9 2274.8 L362.1 2301.3 L388.5 2301.3 L370.1 2319.4 L373.7 2343.6 L353.9 2329.3 L334.1 2343.6 L337.7 2319.4 L319.3 2301.3 L345.7 2301.3 Z" fill="#77ac42" fill-rule="evenodd"/>
<path d="M264.5 2410.8H443.3" stroke="#4dbdeb" stroke-width="17.82" fill="none"/>
<path d="M331.4 2388.2 L376.4 2388.2 L376.4 2433.4 L331.4 2433.4 Z" fill="#4dbdeb" fill-rule="evenodd"/>
<path d="M264.5 2508.8H443.3" stroke="#a21a30" stroke-width="17.82" stroke-dasharray="72 17 36 17" fill="none"/>
<path d="M353.9 2469.3 L383.4 2508.8 L353.9 2548.3 L324.4 2508.8 Z M353.9 2502.6 L358.3 2508.8 L353.9 2515.0 L349.5 2508.8 Z" fill="#a21a30" fill-rule="evenodd"/>
</g>
</g>
<text transform="translate(176.22,3802.00) scale(0.9250,1.0400)" font-size="75.94" fill="#262626" class="sb">0</text>
<text transform="translate(137.23,3612.50) scale(0.9250,1.0400)" font-size="75.94" fill="#262626" class="sb">10</text>
<text transform="translate(137.23,3423.00) scale(0.9250,1.0400)" font-size="75.94" fill="#262626" class="sb">20</text>
<text transform="translate(137.23,3233.50) scale(0.9250,1.0400)" font-size="75.94" fill="#262626" class="sb">30</text>
<text transform="translate(137.23,3044.00) scale(0.9250,1.0400)" font-size="75.94" fill="#262626" class="sb">40</text>
<text transform="translate(137.23,2854.50) scale(0.9250,1.0400)" font-size="75.94" fill="#262626" class="sb">50</text>
<text transform="translate(137.23,2665.00) scale(0.9250,1.0400)" font-size="75.94" fill="#262626" class="sb">60</text>
<text transform="translate(137.23,2475.50) scale(0.9250,1.0400)" font-size="75.94" fill="#262626" class="sb">70</text>
<text transform="translate(137.23,2286.00) scale(0.9250,1.0400)" font-size="75.94" fill="#262626" class="sb">80</text>
<text transform="translate(190.25,3878.40) scale(0.9250,1.0400)" font-size="75.94" fill="#262626" class="sb">-30</text>
<text transform="translate(427.68,3878.40) scale(0.9250,1.0400)" font-size="75.94" fill="#262626" class="sb">-25</text>
<text transform="translate(666.00,3878.40) scale(0.9250,1.0400)" font-size="75.94" fill="#262626" class="sb">-20</text>
<text transform="translate(903.43,3878.40) scale(0.9250,1.0400)" font-size="75.94" fill="#262626" class="sb">-15</text>
<text transform="translate(1141.75,3878.40) scale(0.9250,1.0400)" font-size="75.94" fill="#262626" class="sb">-10</text>
<text transform="translate(1398.76,3878.40) scale(0.9250,1.0400)" font-size="75.94" fill="#262626" class="sb">-5</text>
<text transform="translate(1648.76,3878.40) scale(0.9250,1.0400)" font-size="75.94" fill="#262626" class="sb">0</text>
<text transform="translate(1886.54,3878.40) scale(0.9250,1.0400)" font-size="75.94" fill="#262626" class="sb">5</text>
<text transform="translate(2104.22,3878.40) scale(0.9250,1.0400)" font-size="75.94" fill="#262626" class="sb">10</text>
<text transform="translate(1024.66,3994.50) scale(0.9460,1.0300)" font-size="86.14" fill="#262626" class="sb">SNR[dB]</text>
<text transform="translate(97.80,3663.08) rotate(-90) scale(1.0412,1.0000)" font-size="85.67" fill="#262626" class="sb">Sum Spectral Efficiency (bps/Hz)</text>
<text transform="translate(451.67,2254.00) scale(0.9418,1.0300)" font-size="74.42" fill="#000" class="sb">Fully Digital</text>
<text transform="translate(451.65,2356.90) scale(0.9452,1.0300)" font-size="74.42" fill="#000" class="sb">Proposed (Perfect CSI)</text>
<text transform="translate(451.67,2562.70) scale(0.9411,1.0300)" font-size="74.42" fill="#000" class="sb">Hybrid Precoding (El Ayach, O. et al. 2014)</text>
<text transform="translate(451.67,2665.60) scale(0.9409,1.0300)" font-size="74.42" fill="#000" class="sb">Hybrid Precoding (Yu, X. et al. 2016)</text>
<text transform="translate(0,2463.80) scale(1,1.0300)" fill="#000"><tspan class="sb" font-size="74.42" x="451.68" textLength="995.39" lengthAdjust="spacingAndGlyphs">Proposed (Imperfect CSI with </tspan><tspan class="sbi" font-size="74.00" x="1453.37" textLength="35.17" lengthAdjust="spacingAndGlyphs">δ</tspan><tspan class="sb" font-size="74.42" x="1487.00" textLength="201.88" lengthAdjust="spacingAndGlyphs">=0.85)</tspan></text>
<text transform="translate(0,4127.40) scale(1,1.0000)" fill="#000"><tspan class="sr" font-size="85.00" x="1096.50" textLength="26.64" lengthAdjust="spacingAndGlyphs">(</tspan><tspan class="srb" font-size="88.00" x="1126.91" textLength="48.70" lengthAdjust="spacingAndGlyphs">b</tspan><tspan class="sr" font-size="85.00" x="1174.37" textLength="26.90" lengthAdjust="spacingAndGlyphs">)</tspan></text>
</svg>
</body></html>
